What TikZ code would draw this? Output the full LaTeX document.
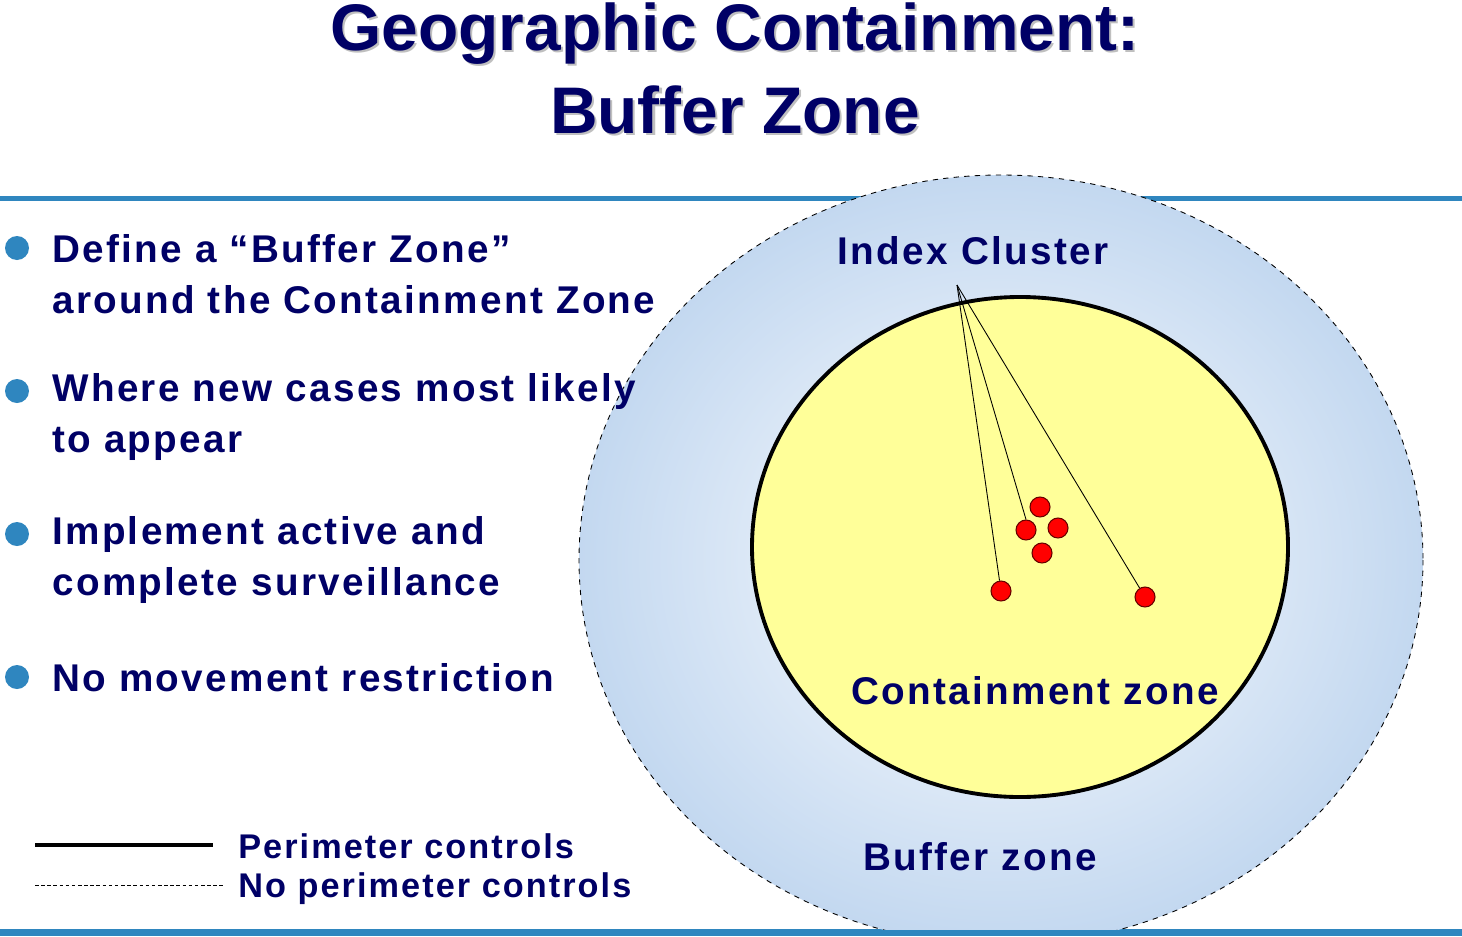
\documentclass[tikz,border=0pt]{standalone}
\usepackage{fontspec}
\setmainfont{Liberation Sans}
\newfontfamily\wide{Liberation Sans}[LetterSpace=6]
\begin{document}
\begin{tikzpicture}[x=0.02cm,y=-0.02cm,
  navy/.style={text=navyc,font=\bfseries},
  reddot/.style={circle,fill=red,draw=black!60!red,line width=0.6pt,minimum size=0.4cm,inner sep=0},
  pointer/.style={line width=0.5pt,black}]
\definecolor{navyc}{HTML}{000066}
\definecolor{rulec}{HTML}{2F86BF}
\definecolor{bufc}{HTML}{C3D8F0}
\definecolor{yel}{HTML}{FFFF99}
\useasboundingbox (0,0) rectangle (1462,936);
\fill[white] (0,0) rectangle (1462,936);
% title
\foreach \t/\y in {{Geographic Containment:}/34,{Buffer Zone}/110}{
  \node[text=gray!50,font=\bfseries\fontsize{37.5}{42}\selectfont] at (737,\y+2) {\t};
  \node[navy,font=\bfseries\fontsize{37.5}{42}\selectfont] at (735,\y) {\t};}
% rules
\fill[rulec] (0,196) rectangle (1462,201);
\fill[rulec] (0,929) rectangle (1462,936);
% buffer
\begin{scope}
\clip (0,0) rectangle (1462,929);
\shade[inner color=white,outer color=bufc,draw=black,dashed,line width=0.5pt]
  (1001,560) ellipse [x radius=422,y radius=385];
\end{scope}
% containment
\draw[fill=yel,line width=2.2pt] (1020,547) ellipse [x radius=268,y radius=250];
% pointers
\coordinate (ic) at (957,285);
\node[reddot] (d1) at (1040,507) {};
\node[reddot] (d2) at (1026,530) {};
\node[reddot] (d3) at (1058,528) {};
\node[reddot] (d4) at (1042,553) {};
\node[reddot] (d5) at (1001,591) {};
\node[reddot] (d6) at (1145,597) {};
\draw[pointer] (ic) -- (d5);
\draw[pointer] (ic) -- (d2.north);
\draw[pointer] (ic) -- (d6);
\node[navy,font=\wide\bfseries\fontsize{22}{26}\selectfont] (lic) at (973,251) {Index Cluster};
\node[navy,font=\wide\bfseries\fontsize{22}{26}\selectfont] (lcz) at (1035,691) {Containment zone};
\node[navy,font=\wide\bfseries\fontsize{22}{26}\selectfont] (lbz) at (980,857) {Buffer zone};
% bullets
\foreach \y/\a/\b in {248/{Define a “Buffer Zone”}/{around the Containment Zone},
  391/{Where new cases most likely}/{to appear},
  534/{Implement active and}/{complete surveillance},
  677/{No movement restriction}/{}}{
  \fill[rulec] (17,\y) circle (12);
  \node[navy,anchor=west,align=left,font=\wide\bfseries\fontsize{22}{29}\selectfont,inner sep=0] at (52,\y+26) {\a\\\b};}
% legend
\coordinate (s1) at (35,845); \coordinate (s2) at (213,845);
\coordinate (n1) at (35,885); \coordinate (n2) at (225,885);
\draw[line width=2.2pt] (s1) -- (s2);
\draw[dashed,line width=0.5pt,dash pattern=on 2pt off 1.5pt] (n1) -- (n2);
\node[navy,anchor=west,inner sep=0,font=\wide\bfseries\fontsize{19.5}{22}\selectfont] at (238,846) {Perimeter controls};
\node[navy,anchor=west,inner sep=0,font=\wide\bfseries\fontsize{19.5}{22}\selectfont] at (238,889) {No perimeter controls};
\end{tikzpicture}
\end{document}
